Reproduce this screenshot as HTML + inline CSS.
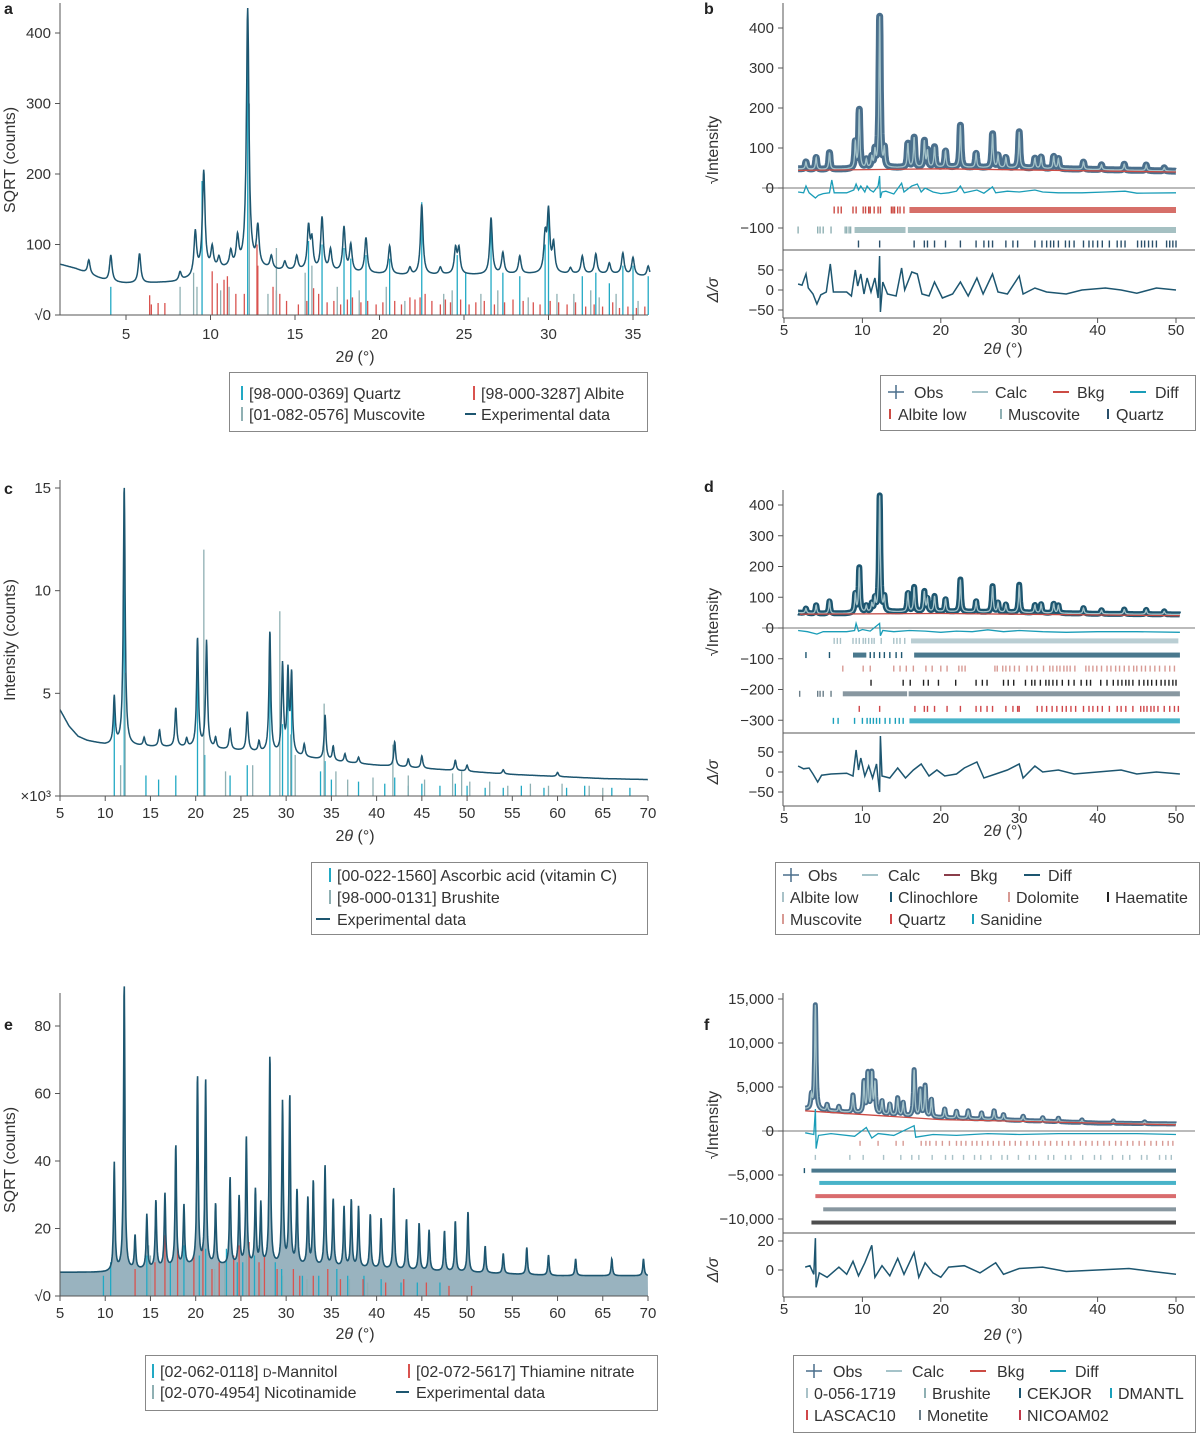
<!DOCTYPE html>
<html><head><meta charset="utf-8"><style>
html,body{margin:0;padding:0;background:#fff}
svg{display:block;font-family:"Liberation Sans",sans-serif}
</style></head><body>
<svg id="fig" width="1200" height="1434" viewBox="0 0 1200 1434" xmlns="http://www.w3.org/2000/svg">
<g font-weight="bold" font-size="16" fill="#222">
<text x="4" y="14">a</text>
<text x="704" y="14">b</text>
<text x="4" y="494">c</text>
<text x="704" y="492">d</text>
<text x="4" y="1030">e</text>
<text x="704" y="1030">f</text>
</g>
<g font-size="16" fill="#333">
<text transform="translate(15,160) rotate(-90)" text-anchor="middle">SQRT (counts)</text>
<text transform="translate(718,150) rotate(-90)" text-anchor="middle">√Intensity</text>
<text transform="translate(718,290) rotate(-90)" text-anchor="middle" font-style="italic">Δ/σ</text>
<text transform="translate(15,640) rotate(-90)" text-anchor="middle">Intensity (counts)</text>
<text transform="translate(718,622) rotate(-90)" text-anchor="middle">√Intensity</text>
<text transform="translate(718,772) rotate(-90)" text-anchor="middle" font-style="italic">Δ/σ</text>
<text transform="translate(15,1160) rotate(-90)" text-anchor="middle">SQRT (counts)</text>
<text transform="translate(718,1125) rotate(-90)" text-anchor="middle">√Intensity</text>
<text transform="translate(718,1270) rotate(-90)" text-anchor="middle" font-style="italic">Δ/σ</text>
<text x="355" y="362" text-anchor="middle">2<tspan font-style="italic">θ</tspan> (°)</text>
<text x="1003" y="354" text-anchor="middle">2<tspan font-style="italic">θ</tspan> (°)</text>
<text x="355" y="841" text-anchor="middle">2<tspan font-style="italic">θ</tspan> (°)</text>
<text x="1003" y="836" text-anchor="middle">2<tspan font-style="italic">θ</tspan> (°)</text>
<text x="355" y="1339" text-anchor="middle">2<tspan font-style="italic">θ</tspan> (°)</text>
<text x="1003" y="1340" text-anchor="middle">2<tspan font-style="italic">θ</tspan> (°)</text>
</g>
<g font-size="16" fill="#333" stroke-width="2">
<g>
<rect x="229.5" y="372.5" width="418" height="59" fill="none" stroke="#888" stroke-width="1"/>
<line x1="242" y1="386" x2="242" y2="400" stroke="#22a9c4"/><text x="249" y="399">[98-000-0369] Quartz</text>
<line x1="474" y1="386" x2="474" y2="400" stroke="#d9534f"/><text x="481" y="399">[98-000-3287] Albite</text>
<line x1="242" y1="407" x2="242" y2="421" stroke="#8fb0b3"/><text x="249" y="420">[01-082-0576] Muscovite</text>
<line x1="465" y1="414" x2="476" y2="414" stroke="#1d5670"/><text x="481" y="420">Experimental data</text>
</g>
<g>
<rect x="880.5" y="375.5" width="315" height="55" fill="none" stroke="#888" stroke-width="1"/>
<path d="M888 392H904M896 385V399" stroke="#4a6f8c" stroke-width="1.5"/><text x="914" y="398">Obs</text>
<line x1="972" y1="392" x2="988" y2="392" stroke="#a5c3c9"/><text x="995" y="398">Calc</text>
<line x1="1053" y1="392" x2="1069" y2="392" stroke="#cc4b44"/><text x="1077" y="398">Bkg</text>
<line x1="1130" y1="392" x2="1146" y2="392" stroke="#1a9db8"/><text x="1155" y="398">Diff</text>
<line x1="890" y1="409" x2="890" y2="419" stroke="#cc4b44"/><text x="898" y="420">Albite low</text>
<line x1="1001" y1="409" x2="1001" y2="419" stroke="#8fb0b3"/><text x="1008" y="420">Muscovite</text>
<line x1="1108" y1="409" x2="1108" y2="419" stroke="#2a4f6a"/><text x="1116" y="420">Quartz</text>
</g>
<g>
<rect x="311.5" y="862.5" width="336" height="72" fill="none" stroke="#888" stroke-width="1"/>
<line x1="330" y1="868" x2="330" y2="882" stroke="#22a9c4"/><text x="337" y="881">[00-022-1560] Ascorbic acid (vitamin C)</text>
<line x1="330" y1="890" x2="330" y2="904" stroke="#8fb0b3"/><text x="337" y="903">[98-000-0131] Brushite</text>
<line x1="316" y1="919" x2="330" y2="919" stroke="#1d5670"/><text x="337" y="925">Experimental data</text>
</g>
<g>
<rect x="775.5" y="862.5" width="424" height="72" fill="none" stroke="#888" stroke-width="1"/>
<path d="M783 875H799M791 868V882" stroke="#4a6f8c" stroke-width="1.5"/><text x="808" y="881">Obs</text>
<line x1="862" y1="875" x2="878" y2="875" stroke="#a5c3c9"/><text x="888" y="881">Calc</text>
<line x1="944" y1="875" x2="960" y2="875" stroke="#8a3d4a"/><text x="970" y="881">Bkg</text>
<line x1="1024" y1="875" x2="1040" y2="875" stroke="#1d5670"/><text x="1048" y="881">Diff</text>
<line x1="783" y1="892" x2="783" y2="902" stroke="#a9c2c8"/><text x="790" y="903">Albite low</text>
<line x1="891" y1="892" x2="891" y2="902" stroke="#1d5670"/><text x="898" y="903">Clinochlore</text>
<line x1="1009" y1="892" x2="1009" y2="902" stroke="#d89a94"/><text x="1016" y="903">Dolomite</text>
<line x1="1108" y1="892" x2="1108" y2="902" stroke="#222"/><text x="1115" y="903">Haematite</text>
<line x1="783" y1="914" x2="783" y2="924" stroke="#d89a94"/><text x="790" y="925">Muscovite</text>
<line x1="891" y1="914" x2="891" y2="924" stroke="#d0474a"/><text x="898" y="925">Quartz</text>
<line x1="973" y1="914" x2="973" y2="924" stroke="#1aa0bb"/><text x="980" y="925">Sanidine</text>
</g>
<g>
<rect x="145.5" y="1355.5" width="512" height="55" fill="none" stroke="#888" stroke-width="1"/>
<line x1="153" y1="1364" x2="153" y2="1378" stroke="#22a9c4"/><text x="160" y="1377">[02-062-0118] <tspan font-size="12">D</tspan>-Mannitol</text>
<line x1="409" y1="1364" x2="409" y2="1378" stroke="#d9534f"/><text x="416" y="1377">[02-072-5617] Thiamine nitrate</text>
<line x1="153" y1="1385" x2="153" y2="1399" stroke="#8fb0b3"/><text x="160" y="1398">[02-070-4954] Nicotinamide</text>
<line x1="396" y1="1392" x2="409" y2="1392" stroke="#1d5670"/><text x="416" y="1398">Experimental data</text>
</g>
<g>
<rect x="793.5" y="1355.5" width="402" height="77" fill="none" stroke="#888" stroke-width="1"/>
<path d="M806 1371H822M814 1364V1378" stroke="#4a6f8c" stroke-width="1.5"/><text x="833" y="1377">Obs</text>
<line x1="886" y1="1371" x2="902" y2="1371" stroke="#a5c3c9"/><text x="912" y="1377">Calc</text>
<line x1="970" y1="1371" x2="986" y2="1371" stroke="#cc4b44"/><text x="997" y="1377">Bkg</text>
<line x1="1050" y1="1371" x2="1066" y2="1371" stroke="#1a9db8"/><text x="1075" y="1377">Diff</text>
<line x1="807" y1="1388" x2="807" y2="1398" stroke="#a9c2c8"/><text x="814" y="1399">0-056-1719</text>
<line x1="925" y1="1388" x2="925" y2="1398" stroke="#8fb0b3"/><text x="932" y="1399">Brushite</text>
<line x1="1020" y1="1388" x2="1020" y2="1398" stroke="#1d5670"/><text x="1027" y="1399">CEKJOR</text>
<line x1="1111" y1="1388" x2="1111" y2="1398" stroke="#1aa0bb"/><text x="1118" y="1399">DMANTL</text>
<line x1="807" y1="1410" x2="807" y2="1420" stroke="#d0474a"/><text x="814" y="1421">LASCAC10</text>
<line x1="920" y1="1410" x2="920" y2="1420" stroke="#6a7d88"/><text x="927" y="1421">Monetite</text>
<line x1="1020" y1="1410" x2="1020" y2="1420" stroke="#c0394a"/><text x="1027" y="1421">NICOAM02</text>
</g>
</g>
<g id="plots"></g>
</svg>
<script>
// ---------- DATA ----------
const bgA_x=[1.1,2,3,4,5,6,7,8,8.8,9.5,11,12.5,14,16,18,20,22,24,26,28,30,32,34,36];
const bgA_y=[72,66,56,47,45,45,46,47,52,62,66,68,63,62,60,58,56,57,57,58,58,58,58,54];
const peaksA=[[2.8,20],[4.1,38],[5.8,42],[8.2,12],[9.1,60],[9.6,140],[10.1,30],[10.5,15],[11.2,22],[11.6,40],[12.2,365],[12.8,55],[13.6,18],[14.4,12],[15.1,20],[15.8,60],[16.0,40],[16.6,75],[17.1,30],[17.9,63],[18.3,38],[19.2,50],[20.6,40],[21.8,10],[22.5,100],[23.6,10],[24.5,35],[24.7,35],[26.6,80],[27.3,30],[28.3,25],[29.8,50],[30.0,85],[30.3,40],[31.3,8],[32.0,25],[32.8,28],[33.6,15],[34.4,30],[35.0,25],[35.9,15]];
const quartzA=[[4.1,40],[9.5,190],[12.2,430],[15.8,105],[16.6,100],[17.9,95],[18.3,80],[19.2,85],[20.6,80],[22.5,160],[24.6,85],[25.1,60],[26.6,130],[27.3,60],[28.3,55],[29.8,100],[30.0,140],[32.0,55],[32.8,60],[33.6,45],[34.4,70],[35.0,70],[35.9,55]];
const muscoviteA=[[8.2,40],[9.0,60],[9.2,40],[10.6,35],[11.1,40],[12.3,300],[13.4,30],[13.9,95],[15.6,60],[16.0,70],[17.5,40],[18.8,35],[20.4,40],[21.5,20],[23.8,30],[24.3,35],[26.0,30],[27.0,35],[28.8,25],[30.5,30],[31.5,30],[32.5,35],[33.0,25],[34.0,30],[35.3,20]];
const albiteA=[[6.4,28],[6.5,15],[6.9,17],[7.3,17],[10.1,62],[10.4,45],[10.8,50],[11.0,55],[11.5,30],[12.0,30],[12.75,100],[12.8,70],[13.7,40],[13.9,35],[14.1,30],[14.5,20],[15.2,15],[15.7,20],[16.1,38],[16.4,30],[16.9,18],[17.3,20],[17.7,15],[18.1,22],[18.4,25],[18.9,18],[19.3,20],[19.8,15],[20.2,18],[20.9,20],[21.3,15],[21.8,25],[22.1,22],[22.4,25],[22.7,30],[23.1,20],[23.6,15],[23.9,22],[24.2,18],[24.8,22],[25.3,15],[25.7,18],[26.2,20],[26.8,15],[27.4,18],[27.9,22],[28.5,20],[29.1,18],[29.5,15],[30.1,20],[30.6,18],[31.1,15],[31.6,18],[32.2,12],[32.7,15],[33.2,12],[33.8,18],[34.2,10],[34.7,12],[35.2,10],[35.7,12]];
const xTicksA=[5,10,15,20,25,30,35];
const yTicksA=[0,100,200,300,400];
const yLabelsA=["√0","100","200","300","400"];

const bgB_x=[1.8,4,8,12,20,30,40,50];
const bgB_y=[48,46,47,50,52,50,46,42];
const peaksB=[[2.8,18],[4.1,30],[5.8,42],[9.1,65],[9.6,145],[10.5,20],[11.2,25],[11.6,40],[12.2,380],[12.8,45],[15.8,60],[16.6,75],[17.9,65],[18.3,40],[19.2,50],[20.6,40],[22.5,105],[24.5,35],[26.6,85],[27.3,30],[28.3,25],[30.0,90],[32.0,25],[32.8,28],[34.4,30],[35.0,25],[38.2,18],[40.5,12],[43.4,15],[46.2,14],[48.5,8]];
const bkgB_x=[1.8,20,50];
const bkgB_y=[44,48,40];
const diffB=[[1.8,-10],[2.5,-12],[2.8,5],[3.2,-12],[4.0,-25],[4.4,-18],[5.0,-14],[5.8,-12],[6.1,20],[6.4,-12],[8,-12],[8.9,-5],[9.2,10],[9.5,-5],[9.8,5],[10.3,-10],[10.6,5],[11.0,-5],[11.4,-10],[12.0,5],[12.2,30],[12.3,-25],[12.5,-10],[13,-8],[14,-15],[15.0,12],[15.3,-10],[16.3,5],[17,10],[17.5,-10],[18,0],[19,-10],[20,-14],[21,-12],[22,-8],[22.5,5],[23,-12],[24.6,-5],[25.5,-13],[26.6,3],[27,-12],[28.5,-8],[30,-10],[32,-5],[33,-10],[35,-12],[38,-12],[41,-10],[43.5,-8],[45,-13],[50,-12]];
const residB=[[1.8,15],[2.3,12],[2.8,40],[3.1,5],[3.7,-10],[4.2,-35],[4.7,-12],[5.4,-5],[5.9,65],[6.3,-5],[8,-5],[8.6,-15],[9.1,50],[9.4,10],[9.8,40],[10.2,-10],[10.6,30],[11.1,-5],[11.6,30],[12.0,-20],[12.2,85],[12.3,-55],[12.6,20],[13.2,-10],[14.3,-15],[15.0,55],[15.4,0],[16.3,45],[17,40],[17.6,-10],[18.5,-15],[19.2,20],[20.2,-20],[21.5,-10],[22.5,20],[23.5,-15],[24.6,30],[25.4,-10],[26.6,40],[27.3,-5],[28.5,-10],[30.0,35],[30.5,-10],[32,5],[33.5,-5],[36,-10],[38,0],[41,5],[43,0],[45,-8],[47.5,5],[50,0]];
const rowsB_level=[-55,-105,-140];
const rowsB_color=["#cc4b44","#8fb0b3","#2a4f6a"];
const rowsB_ticks=[[6.4,6.9,7.3,8.8,9.2,10.1,10.4,10.8,11.0,11.5,12.0,12.3,13.7,13.9,14.1,14.5,14.8,15.3],[1.8,4.3,4.6,5.0,6.0,7.8,8.0,8.3,8.5],[9.5,12.2,16.6,17.9,18.3,19.2,20.6,22.5,24.5,25.5,26.1,26.6,28.3,29.2,29.8,32.0,32.9,33.5,34.0,34.4,35.0,35.9,36.4,37.0,38.2,38.9,39.4,40.0,40.6,41.5,42.5,43.0,43.5,45.1,45.6,46.0,46.5,47.0,47.5,48.8,49.2,49.6,50.0]];
const rowsB_bands=[[[16.0,50]],[[9.0,15.5],[15.8,50]],[]];
const xTicksB=[0,10,20,30,40,50];
const xLabelsB=["5","10","20","30","40","50"];
const yTicksB=[0,100,200,300,400];
const yTicksB2=[-100];
const resTicks=[-50,0,50];

const bgC_x=[5,6,7,8,10,15,20,25,30,35,40,45,50,55,60,65,70];
const bgC_y=[4.2,3.4,2.9,2.7,2.5,2.4,2.35,2.2,2.0,1.7,1.5,1.35,1.2,1.05,0.95,0.85,0.8];
const peaksC=[[11.0,2.3],[12.1,12.6],[14.3,0.4],[16.0,0.8],[17.8,1.9],[19.0,0.4],[20.2,5.3],[21.2,5.2],[22.2,0.5],[23.8,1.0],[25.7,1.9],[27.0,0.5],[28.2,5.9],[29.6,4.3],[30.2,3.9],[30.6,3.8],[32.0,0.6],[34.3,2.2],[35.2,0.7],[36.5,0.4],[38.0,0.3],[42.0,1.2],[43.5,0.4],[45.0,0.6],[48.7,0.5],[50.0,0.3],[54.0,0.2],[60.0,0.2]];
const ascorbicC=[[11.0,4.7],[12.1,15],[14.5,1.0],[15.9,0.8],[17.8,1.0],[20.2,7.5],[21.0,2.0],[23.8,1.0],[25.7,1.5],[28.2,8.0],[29.6,3.5],[30.2,5.9],[30.6,5.9],[33.8,1.2],[34.3,1.7],[35.0,0.8],[38,0.7],[40.9,0.6],[42.0,0.9],[43.5,0.5],[45,0.6],[47.0,0.5],[48.7,0.6],[50,0.5],[52,0.4],[54,0.4],[56,0.5],[58.5,0.4],[61,0.4],[63,0.5],[66,0.4],[68,0.4]];
const brushiteC=[[11.7,1.5],[12.2,6],[20.9,12],[23.3,1.2],[26.3,1.5],[29.3,9],[30.5,3],[31.0,2],[34.2,4.5],[35.5,1.2],[36.8,0.8],[39.6,0.9],[41.8,2.5],[43.5,1.0],[45.3,0.8],[48.4,1.1],[49.4,1.2],[50.3,0.7],[52.5,0.7],[54.5,0.5],[57,0.6],[59,0.5],[60.5,0.6],[63.5,0.5],[65,0.4]];
const xTicksC=[5,10,15,20,25,30,35,40,45,50,55,60,65,70];
const yTicksC=[0,5,10,15];
const yLabelsC=["×10³","5","10","15"];

const bgD_x=[1.8,4,8,12,20,30,40,50.5];
const bgD_y=[50,46,47,52,53,50,46,44];
const peaksD=[[2.8,15],[4.1,28],[5.8,40],[9.1,60],[9.6,145],[10.5,20],[11.2,25],[11.6,40],[12.2,380],[12.8,45],[15.8,60],[16.6,80],[17.9,65],[18.3,40],[19.2,50],[20.6,40],[22.5,105],[24.5,35],[26.6,85],[27.3,30],[28.3,25],[30.0,90],[32.0,25],[32.8,28],[34.4,30],[35.0,25],[38.2,18],[40.5,12],[43.4,15],[46.2,14],[48.5,10]];
const bkgD_x=[2,20,50.5];
const bkgD_y=[45,47,40];
const diffD=[[1.8,-8],[3,-12],[4.2,-20],[5,-12],[8,-12],[9.0,-8],[9.2,15],[9.5,-10],[10,-5],[11,-10],[12.2,15],[12.3,-25],[12.6,-8],[14,-12],[16,-8],[18,-10],[20,-14],[22,-10],[24,-12],[26,-6],[28,-12],[30,-8],[33,-12],[36,-14],[40,-12],[45,-12],[50.5,-14]];
const residD=[[1.8,15],[2.5,8],[3.2,10],[3.7,-5],[4.3,-25],[4.8,-8],[6,-5],[8,-3],[8.8,-10],[9.2,55],[9.5,5],[9.8,35],[10.3,-10],[10.8,15],[11.3,-15],[11.8,20],[12.2,-50],[12.3,90],[12.5,-10],[13.5,-15],[14.5,10],[15.5,-15],[16.5,5],[17.5,20],[18.5,-10],[19.5,5],[20.5,-10],[22,-5],[23,10],[24.6,25],[25.5,-15],[27,-5],[28.5,5],[30,20],[30.5,-15],[32,15],[33,0],[35,5],[37,-5],[40,0],[43,5],[45,-5],[47.5,0],[50.5,-5]];
const rowsD_level=[-42,-88,-132,-178,-214,-263,-302];
const rowsD_color=["#a9c2c8","#1d5670","#d89a94","#222","#6a7d88","#d0474a","#1aa0bb"];
const rowsD_ticks=[[6.4,6.8,7.2,8.8,9.2,9.6,10.1,10.4,10.8,11.2,11.5,12.4,14.0,14.4,14.8,15.4],[2.8,5.8,11,11.5,12.2,12.8,13.5,14.3,15.0],[7.5,10.1,11.0,14.0,14.8,15.6,16.5,18.1,18.9,20.0,20.8,22.3,22.7,23.1,26.9,27.2,27.9,28.3,28.8,29.4,30.0,31.0,31.6,32.3,33.1,33.9,34.3,34.8,35.2,35.7,36.1,36.5,37.1,38.5,38.9,39.4,39.9,40.5,41.2,41.7,42.3,42.8,43.4,44.0,44.6,45.0,45.6,46.1,46.7,47.3,47.9,48.6,49.2,49.8],[11.1,15.2,16.1,17.8,18.4,19.7,21.9,24.5,25.3,25.9,28.0,28.6,29.3,30.8,31.6,32.0,32.7,33.4,33.8,34.3,34.8,35.5,36.3,37.0,37.9,38.6,39.1,40.4,41.2,42.0,42.6,43.1,43.6,44.0,44.5,45.3,45.9,46.4,46.9,47.5,48.1,48.6,49.1,49.6,50.0],[2.0,4.3,4.6,5.0,6.0],[9.6,12.2,16.7,17.9,18.3,19.2,20.8,22.5,24.5,25.1,25.9,26.6,28.3,29.2,29.8,30.0,32.3,32.9,33.5,34.2,34.8,35.5,36.0,36.6,37.2,38.2,38.9,39.4,40.0,40.6,41.5,42.5,43.0,43.6,44.5,45.5,45.9,46.3,46.8,47.2,47.7,48.5,49.2,49.8,50.3],[6.3,6.9,9.0,10.0,10.6,11.0,11.4,11.8,12.2,12.9,13.5,14.2,14.7,15.2]];
const rowsD_bands=[[[16.2,50.3]],[[8.8,10.5],[16.6,50.5]],[],[],[[7.5,15.7],[15.9,50.5]],[],[[16.0,50.5]]];
const yTicksD=[0,100,200,300,400];
const yTicksD2=[-100,-200,-300];

const bgE_x=[5,10,15,20,30,40,50,60,70];
const bgE_y=[7,7,8,9,9,8,7,6,6];
const peaksE=[[11.0,32],[12.1,85],[13.3,10],[14.6,16],[15.6,20],[16.6,22],[17.8,36],[18.7,18],[20.2,56],[21.1,55],[22.2,18],[23.8,26],[24.8,20],[25.6,38],[26.6,22],[27.2,18],[28.2,62],[29.6,48],[30.4,50],[31.2,22],[32.4,20],[33.0,25],[34.3,30],[35.2,20],[36.4,18],[37.2,20],[38.0,18],[39.3,16],[40.5,15],[41.9,24],[43.3,15],[44.7,14],[45.8,12],[47.5,12],[48.7,15],[50.1,18],[52.0,8],[54,6],[56.6,8],[59,6],[62,5],[66,5],[69.5,5]];
const mannitolE=[[9.8,6],[10.6,10],[14.6,12],[17.2,10],[18.7,15],[20.4,12],[21.1,14],[23.4,14],[24.6,10],[25.2,10],[26.5,12],[28.8,10],[29.5,8],[31.8,6],[33.6,6],[35.6,8],[36.8,6],[38.6,6],[40.5,5],[42.7,4],[44.5,4],[47,4]];
const thiamineE=[[13.3,8],[15.5,10],[16.6,18],[18,15],[19.8,12],[20.8,14],[21.8,8],[22.6,10],[24.2,12],[24.8,15],[25.9,16],[27,10],[27.6,12],[29,8],[30.8,8],[31.5,6],[33,6],[34.6,8],[36,5],[38.5,5],[41,4],[43,5],[45.5,4],[48,3],[50.5,3]];
const nicotinamideE=[[14.8,15],[15.0,12],[22.1,8],[23.2,10],[25.6,18],[27.2,8],[29.6,6],[32.3,5],[37,5],[39,4]];
const yTicksE=[0,20,40,60,80];
const yLabelsE=["√0","20","40","60","80"];

const bgF_x=[2.7,5,10,15,20,30,40,50];
const bgF_y=[2500,2300,2000,1700,1500,1200,900,800];
const peaksF=[[3.5,1500],[4.0,12000],[5.5,700],[7,600],[8.8,2000],[10.2,3500],[10.7,4500],[11.2,4500],[11.6,3500],[12.5,1500],[13.5,1200],[14.5,2000],[15.2,1500],[16.6,5300],[17.4,3000],[18.0,3500],[18.8,2000],[20.5,1000],[22,800],[23.5,900],[25.2,700],[26.8,1000],[28,600],[30.5,500],[33,400],[35,400],[38,300],[42,250],[46,200]];
const bkgF_x=[2.7,20,50];
const bkgF_y=[2300,1300,700];
const diffF=[[2.7,-200],[3.8,-400],[4.0,2500],[4.1,-2000],[4.4,-500],[6,-300],[9,-600],[10.5,400],[11.2,-800],[12,-300],[14,-500],[16.6,600],[16.8,-700],[19,-400],[22,-500],[26,-300],[30,-400],[35,-300],[40,-300],[45,-300],[50,-400]];
const residF=[[2.7,2],[3.3,3],[3.8,-3],[4.0,22],[4.1,-12],[4.5,-2],[5.5,-5],[7,2],[8,-3],[8.8,6],[9.5,-4],[10.3,5],[11.2,17],[11.6,-5],[12.5,3],[13.5,-4],[14.5,8],[15.3,-3],[16.6,12],[17.2,-5],[18,5],[19,-2],[20,-5],[21,2],[23,3],[25,-2],[27,5],[28,-3],[30,1],[33,2],[36,-1],[40,0],[44,1],[47,-1],[50,-3]];
const rowsF_level=[-1400,-3000,-4500,-5900,-7400,-8900,-10400];
const rowsF_color=["#d89a94","#a9c2c8","#1d5670","#1aa0bb","#d0474a","#6a7d88","#222"];
const rowsF_ticks=[[9.7,12.0,14.3,15.2,17.5,18.1,18.6,19.4,20.2,21.1,22,22.6,23.2,24,24.6,25.3,26,26.7,27.4,28.1,28.8,29.5,30.2,31,31.8,32.5,33.3,34,34.8,35.5,36.3,37,37.8,38.5,39.3,40,40.8,41.5,42.3,43,43.8,44.5,45.3,46,46.8,47.5,48.3,49,49.6],[4.0,8.4,10.1,12.7,14.9,16.3,17.2,18.9,20.6,21.5,22.9,24.3,25.1,26.4,27.8,28.5,29.9,31.3,32.1,33.7,34.4,35.9,36.6,38.1,39.6,40.4,41.9,43.2,44.1,45.6,46.3,47.9,48.7,49.4],[2.6],[],[],[],[]];
const rowsF_bands=[[],[],[[3.5,50]],[[4.5,50]],[[4.0,50]],[[5,50]],[[3.5,50]]];
const yTicksF=[0,5000,10000,15000];
const yLabelsF=["0","5,000","10,000","15,000"];
const yTicksF2=[-5000,-10000];
const yLabelsF2=["−5,000","−10,000"];
const resTicksF=[0,20];

// ---------- HELPERS ----------
const NS="http://www.w3.org/2000/svg";
const root=document.getElementById('plots');
function el(tag,name,attrs,parent){
  const e=document.createElementNS(NS,tag);
  
  
  for(const k in attrs) e.setAttribute(k,attrs[k]);
  (parent||root).appendChild(e); return e;
}
function lin(d0,d1,r0,r1){return v=>r0+(v-d0)*(r1-r0)/(d1-d0);}
function interp(xs,ys,x){
  if(x<=xs[0])return ys[0];
  for(let i=1;i<xs.length;i++){if(x<=xs[i]){const t=(x-xs[i-1])/(xs[i]-xs[i-1]);return ys[i-1]+t*(ys[i]-ys[i-1]);}}
  return ys[ys.length-1];
}
function model(bx,by,peaks,w,x){
  let v=interp(bx,by,x);
  for(const p of peaks){const d=(x-p[0])/w;v+=p[1]/(1+d*d);}
  return v;
}
function curvePath(sx,sy,bx,by,peaks,w,x0,x1,step){
  let d="";
  for(let x=x0;x<=x1+1e-9;x+=step){d+=(d?"L":"M")+sx(x).toFixed(1)+" "+sy(model(bx,by,peaks,w,x)).toFixed(1);}
  return d;
}
function ptsPath(sx,sy,pts){return pts.map((p,i)=>(i?"L":"M")+sx(p[0]).toFixed(1)+" "+sy(p[1]).toFixed(1)).join("");}
function lineXY(sx,sy,xs,ys){return xs.map((x,i)=>(i?"L":"M")+sx(x).toFixed(1)+" "+sy(ys[i]).toFixed(1)).join("");}
function sticks(g,name,sx,sy,arr,color,base){
  for(const s of arr){
    el('line',name,{x1:sx(s[0]),x2:sx(s[0]),y1:sy(base),y2:sy(s[1]),stroke:color,'stroke-width':1.3},g);
  }
}
function tickRows(g,sx,sy,levels,colors,ticks,bands,h){
  levels.forEach((lv,i)=>{
    const y=sy(lv);
    for(const t of ticks[i]){
      el('line','phase-tick',{x1:sx(t),x2:sx(t),y1:y-h/2,y2:y+h/2,stroke:colors[i],'stroke-width':1.4},g);
    }
    for(const b of bands[i]){
      el('rect','phase-tick-band',{x:sx(b[0]),y:y-h/2+0.5,width:sx(b[1])-sx(b[0]),height:h-1,fill:colors[i],opacity:0.8},g);
    }
  });
}
function yAxisLabels(g,sy,vals,labels,x){
  vals.forEach((v,i)=>{
    el('line','y-tick',{x1:x-5,x2:x,y1:sy(v),y2:sy(v),stroke:'#555','stroke-width':1},g);
    const t=el('text','y-tick-label',{x:x-9,y:sy(v)+5,'text-anchor':'end','font-size':15,fill:'#333'},g);
    t.textContent=labels?labels[i]:(v<0?"−"+Math.abs(v):String(v));
  });
}
function xAxisLabels(g,sx,vals,labels,y,ty){
  vals.forEach((v,i)=>{
    el('line','x-tick',{x1:sx(v),x2:sx(v),y1:y,y2:y+5,stroke:'#555','stroke-width':1},g);
    const t=el('text','x-tick-label',{x:sx(v),y:ty,'text-anchor':'middle','font-size':15,fill:'#333'},g);
    t.textContent=labels?labels[i]:String(v);
  });
}
function frame(g,x0,x1,yTop,yBot){
  el('line','y-axis-line',{x1:x0,x2:x0,y1:yTop,y2:yBot,stroke:'#555','stroke-width':1},g);
  el('line','x-axis-line',{x1:x0,x2:x1,y1:yBot,y2:yBot,stroke:'#555','stroke-width':1},g);
}
const EXP="#1d5670",OBS="#4a6f8c",CALC="#a5c3c9",BKG="#cc4b44",DIFF="#1a9db8";

// ---------- PANEL A ----------
(function(){
  const g=el('g','panel-a',{});
  const sx=lin(5,35,126,633), sy=lin(0,400,315,33);
  sticks(g,'albite-stick',sx,sy,albiteA,'#d9534f',0);
  sticks(g,'muscovite-stick',sx,sy,muscoviteA,'#8fb0b3',0);
  sticks(g,'quartz-stick',sx,sy,quartzA,'#22a9c4',0);
  el('path','experimental-curve-a',{d:curvePath(sx,sy,bgA_x,bgA_y,peaksA,0.09,1.1,36.0,0.02),fill:'none',stroke:EXP,'stroke-width':1.5},g);
  frame(g,60,648,3,315);
  yAxisLabels(g,sy,yTicksA,yLabelsA,60);
  xAxisLabels(g,sx,xTicksA,null,315,339);
})();

function refinement(name,opt){
  const g=el('g',name,{});
  const sx=lin(0,50,784,1176);
  const sy=opt.sy, sr=opt.sr;
  el('line','zero-line',{x1:762,x2:1195,y1:sy(0),y2:sy(0),stroke:'#777','stroke-width':1},g);
  el('path','obs-band',{d:curvePath(sx,sy,opt.bx,opt.by,opt.peaks,0.1,opt.x0,opt.x1,0.03),fill:'none',stroke:opt.obsColor,'stroke-width':opt.obsW,'stroke-linejoin':'round'},g);
  el('path','calc-curve',{d:curvePath(sx,sy,opt.bx,opt.by,opt.peaks,0.1,opt.x0,opt.x1,0.03),fill:'none',stroke:CALC,'stroke-width':1.3},g);
  el('path','bkg-curve',{d:lineXY(sx,sy,opt.kx,opt.ky),fill:'none',stroke:opt.bkgColor,'stroke-width':1.3},g);
  el('path','diff-curve',{d:ptsPath(sx,sy,opt.diff),fill:'none',stroke:opt.diffColor,'stroke-width':1.3},g);
  tickRows(g,sx,sy,opt.levels,opt.colors,opt.ticks,opt.bands,opt.th);
  el('path','residual-curve',{d:ptsPath(sx,sr,opt.resid),fill:'none',stroke:EXP,'stroke-width':1.5},g);
  el('line','y-axis-line',{x1:783,x2:783,y1:opt.top,y2:opt.bot,stroke:'#555','stroke-width':1},g);
  el('line','panel-separator',{x1:783,x2:1195,y1:opt.sep,y2:opt.sep,stroke:'#555','stroke-width':1},g);
  el('line','x-axis-line',{x1:783,x2:1195,y1:opt.bot,y2:opt.bot,stroke:'#555','stroke-width':1},g);
  yAxisLabels(g,sy,opt.yt,opt.ytl,783);
  yAxisLabels(g,sy,opt.yt2,opt.yt2l,783);
  yAxisLabels(g,sr,opt.rt,null,783);
  xAxisLabels(g,sx,xTicksB,xLabelsB,opt.bot,opt.bot+17);
}
refinement('panel-b',{sy:lin(0,400,188,28),sr:lin(0,50,290,270),bx:bgB_x,by:bgB_y,peaks:peaksB,x0:1.8,x1:50,obsColor:OBS,obsW:7,kx:bkgB_x,ky:bkgB_y,bkgColor:BKG,diff:diffB,diffColor:DIFF,levels:rowsB_level,colors:rowsB_color,ticks:rowsB_ticks,bands:rowsB_bands,th:7,resid:residB,top:3,bot:318,sep:250,yt:yTicksB,ytl:null,yt2:yTicksB2,yt2l:null,rt:resTicks});
refinement('panel-d',{sy:lin(0,400,628,505),sr:lin(0,50,772,752),bx:bgD_x,by:bgD_y,peaks:peaksD,x0:1.8,x1:50.5,obsColor:EXP,obsW:6,kx:bkgD_x,ky:bkgD_y,bkgColor:'#c24a44',diff:diffD,diffColor:DIFF,levels:rowsD_level,colors:rowsD_color,ticks:rowsD_ticks,bands:rowsD_bands,th:6,resid:residD,top:490,bot:806,sep:733,yt:yTicksD,ytl:null,yt2:yTicksD2,yt2l:null,rt:resTicks});
refinement('panel-f',{sy:lin(0,15000,1131,999),sr:lin(0,20,1270,1241),bx:bgF_x,by:bgF_y,peaks:peaksF,x0:2.7,x1:50,obsColor:OBS,obsW:5,kx:bkgF_x,ky:bkgF_y,bkgColor:BKG,diff:diffF,diffColor:DIFF,levels:rowsF_level,colors:rowsF_color,ticks:rowsF_ticks,bands:rowsF_bands,th:5,resid:residF,top:993,bot:1297,sep:1233,yt:yTicksF,ytl:yLabelsF,yt2:yTicksF2,yt2l:yLabelsF2,rt:resTicksF});

// ---------- PANEL C ----------
(function(){
  const g=el('g','panel-c',{});
  const sx=lin(5,70,60,648), sy=lin(0,15,796,488);
  sticks(g,'ascorbic-acid-stick',sx,sy,ascorbicC,'#22a9c4',0);
  sticks(g,'brushite-stick',sx,sy,brushiteC,'#8fb0b3',0);
  el('path','experimental-curve-c',{d:curvePath(sx,sy,bgC_x,bgC_y,peaksC,0.12,5,70,0.03),fill:'none',stroke:EXP,'stroke-width':1.5},g);
  frame(g,60,648,480,796);
  yAxisLabels(g,sy,yTicksC,yLabelsC,60);
  xAxisLabels(g,sx,xTicksC,null,796,818);
})();

// ---------- PANEL E ----------
(function(){
  const g=el('g','panel-e',{});
  const sx=lin(5,70,60,648), sy=lin(0,80,1296,1026);
  const d=curvePath(sx,sy,bgE_x,bgE_y,peaksE,0.09,5,70,0.03);
  el('path','noise-band-e',{d:d+"L"+sx(70)+" "+sy(0)+"L"+sx(5)+" "+sy(0)+"Z",fill:EXP,opacity:0.45,stroke:'none'},g);
  sticks(g,'nicotinamide-stick',sx,sy,nicotinamideE,'#8fb0b3',0);
  sticks(g,'mannitol-stick',sx,sy,mannitolE,'#22a9c4',0);
  sticks(g,'thiamine-nitrate-stick',sx,sy,thiamineE,'#d9534f',0);
  el('path','experimental-curve-e',{d:d,fill:'none',stroke:EXP,'stroke-width':1.6},g);
  frame(g,60,648,993,1296);
  yAxisLabels(g,sy,yTicksE,yLabelsE,60);
  xAxisLabels(g,sx,xTicksC,null,1296,1318);
})();
</script>
</body></html>
